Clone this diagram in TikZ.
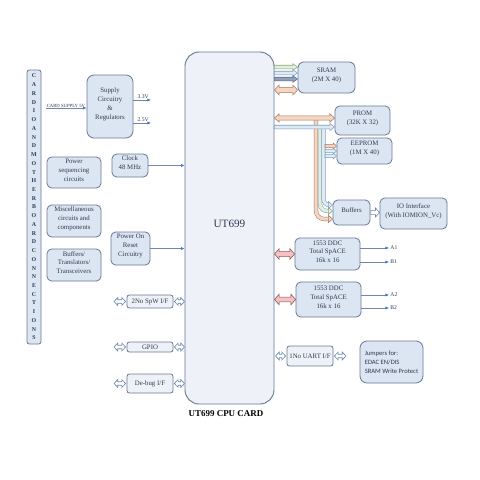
\documentclass[tikz,border=0pt]{standalone}
\usepackage{fontspec}
\setmainfont{Liberation Serif}
\newfontfamily\jfont{Carlito}
\usetikzlibrary{calc,fit,arrows.meta}
\definecolor{bxfill}{HTML}{DCE6F2}
\definecolor{bxlight}{HTML}{EEF2F8}
\definecolor{bxline}{HTML}{6B7A96}
\definecolor{txt}{HTML}{2F3A52}
\definecolor{peachF}{HTML}{F8D5BF}
\definecolor{peachL}{HTML}{9C7B6A}
\definecolor{lblueF}{HTML}{DDEBF7}
\definecolor{lblueL}{HTML}{7F9DB9}
\definecolor{greenF}{HTML}{E2EFDA}
\definecolor{greenL}{HTML}{8FA486}
\definecolor{dblueF}{HTML}{8EA0BC}
\definecolor{dblueL}{HTML}{5F6F8A}
\definecolor{pinkF}{HTML}{F4C2C2}
\definecolor{pinkL}{HTML}{8C5555}
\definecolor{hollowL}{HTML}{6C86AE}
\definecolor{thinL}{HTML}{6E86B0}
\definecolor{tipC}{HTML}{4472C4}
\newcommand\sarr[6]{%
 \filldraw[#1] let \p1=#2, \p2=#3, \n1={(\x2>\x1)*2-1} in
 (\x1,{\y1+#4}) -- ({\x2-(\n1)*#6},{\y1+#4}) -- ({\x2-(\n1)*#6},{\y1+#5}) -- (\x2,\y1)
 -- ({\x2-(\n1)*#6},{\y1-#5}) -- ({\x2-(\n1)*#6},{\y1-#4}) -- (\x1,{\y1-#4}) -- cycle;}
\newcommand\darr[6]{%
 \filldraw[#1] let \p1=#2, \p2=#3, \n1={(\x2>\x1)*2-1} in
 (\x1,\y1) -- ({\x1+(\n1)*#6},{\y1+#5}) -- ({\x1+(\n1)*#6},{\y1+#4}) -- ({\x2-(\n1)*#6},{\y1+#4})
 -- ({\x2-(\n1)*#6},{\y1+#5}) -- (\x2,\y1) -- ({\x2-(\n1)*#6},{\y1-#5}) -- ({\x2-(\n1)*#6},{\y1-#4})
 -- ({\x1+(\n1)*#6},{\y1-#4}) -- ({\x1+(\n1)*#6},{\y1-#5}) -- cycle;}
\newcommand\harr[4]{%
 \filldraw[#1] let \p1=#2 in (\x1,\y1) -- ({\x1-#4},{\y1+#3}) -- ({\x1-#4},{\y1-#3}) -- cycle;}
\begin{document}
\begin{tikzpicture}[x=0.85pt,y=-0.85pt,
 box/.style={draw=bxline, fill=bxfill, line width=0.7pt, rounded corners=4pt, inner sep=0pt,
   font=\fontsize{5.8}{7.6}\selectfont, text=txt, align=center},
 lbox/.style={box, fill=bxlight},
 tarr/.style={draw=thinL, line width=0.5pt, -{Latex[length=3pt,width=2.6pt,color=tipC]}},
 lbl/.style={font=\fontsize{4.8}{6}\selectfont, text=txt, inner sep=1pt},
 peach/.style={fill=peachF, draw=peachL, line width=0.45pt},
 lblue/.style={fill=lblueF, draw=lblueL, line width=0.45pt},
 green/.style={fill=greenF, draw=greenL, line width=0.45pt},
 dblue/.style={fill=dblueF, draw=dblueL, line width=0.45pt},
 pink/.style={fill=pinkF, draw=pinkL, line width=0.5pt},
 hollow/.style={fill=white, draw=hollowL, line width=0.5pt},
 bus/.style 2 args={draw=#2, double=#1, double distance=2.6pt, line width=0.45pt}]
\useasboundingbox (0,0) rectangle (480,480);
\fill[white] (0,0) rectangle (480,480);

% left connector column
\node[box, rounded corners=2pt, fit={(27,70) (41,344)}] (conn) {};
\node[text=txt, font=\bfseries\fontsize{5}{7.42}\selectfont, align=center, inner sep=0pt] (connlbl) at (conn.center)
 {C\\A\\R\\D\\I\\O\\A\\N\\D\\M\\O\\T\\H\\E\\R\\B\\O\\A\\R\\D\\C\\O\\N\\N\\E\\C\\T\\I\\O\\N\\S};

% main CPU box
\node[lbox, rounded corners=12pt, line width=0.8pt, font=\fontsize{9.5}{11}\selectfont, fit={(185,52) (274,404)}] (ut) {UT699};
\node[font=\bfseries\fontsize{7.6}{9}\selectfont, text=black, inner sep=0pt] (title) at (226,414) {UT699 CPU CARD};

% left side boxes
\node[box, rounded corners=6pt, fit={(87,75) (133,138)}] (supply) {Supply\\Circuitry\\\&\\Regulators};
\node[box, fit={(47,157) (101,188)}] (pseq) {Power\\sequencing\\circuits};
\node[box, fit={(112,154) (148,177)}] (clock) {Clock\\48 MHz};
\node[box, fit={(47,205) (101,237)}] (misc) {Miscellaneous\\circuits and\\components};
\node[box, fit={(47,249) (101,281)}] (buff3) {Buffers/\\Translators/\\Transceivers};
\node[box, fit={(111,232) (150,265)}] (por) {Power On\\Reset\\Circuitry};
\node[lbox, rounded corners=2pt, fit={(127,295) (173,308)}] (spw) {};
\node[lbox, rounded corners=2pt, fit={(127,342) (173,352)}] (gpio) {};
\node[lbox, rounded corners=2pt, fit={(127,374) (173,393)}] (debug) {};
\node[box, draw=none, fill=none] (spwlbl) at (spw.center) {2No SpW I/F};
\node[box, draw=none, fill=none] (gpiolbl) at (gpio.center) {GPIO};
\node[box, draw=none, fill=none] (debuglbl) at (debug.center) {De-bug I/F};

% right side boxes
\node[box, rounded corners=5pt, fit={(298,62) (355,93)}] (sram) {SRAM\\(2M X 40)};
\node[box, fit={(335,106) (390,135)}] (prom) {PROM\\(32K X 32)};
\node[box, fit={(337,138) (392,164)}] (eeprom) {EEPROM\\(1M X 40)};
\node[box, fit={(333,200) (370,225)}] (buffers) {Buffers};
\node[box, fit={(380,198) (447,229)}] (io) {IO Interface\\(With IOMION\_Vc)};
\node[box, fit={(295,238) (360,270)}] (ddc1) {1553 DDC\\Total SpACE\\16k x 16};
\node[box, fit={(296,282) (361,317)}] (ddc2) {1553 DDC\\Total SpACE\\16k x 16};
\node[lbox, rounded corners=2pt, fit={(287,346) (333,366)}] (uart) {};
\node[box, draw=none, fill=none] (uartlbl) at (uart.center) {1No UART I/F};
\node[box, rounded corners=6pt, fit={(360,341) (423,383)}] (jump) {};
\node[font=\jfont\fontsize{5.6}{7.8}\selectfont, align=left, text=txt, inner sep=0pt] (jumplbl) at (jump.center) {Jumpers for:\\EDAC EN/DIS\\SRAM Write Protect};

% thin connectors
\coordinate (cs) at (46,108);
\draw[tarr] (cs) -- (supply.west |- cs);
\node[lbl, font=\fontsize{4}{5}\selectfont, anchor=south west, inner sep=0.5pt] (cslbl) at (cs) {CARD SUPPLY 5V};
\coordinate (v33) at (151,100);
\coordinate (v25) at (151,123);
\draw[tarr] (supply.east |- v33) -- (v33) node[lbl, pos=0.55, above] {3.3V};
\draw[tarr] (supply.east |- v25) -- (v25) node[lbl, pos=0.55, above] {2.5V};
\draw[tarr] (clock.east) -- (ut.west |- clock.east);
\draw[tarr] (por.east) -- (ut.west |- por.east);
\coordinate (a1) at (389,248);
\coordinate (b1) at (389,262);
\coordinate (a2) at (389,295);
\coordinate (b2) at (389,308);
\draw[tarr] (ddc1.east |- a1) -- (a1) node[lbl, right] {A1};
\draw[tarr] (ddc1.east |- b1) -- (b1) node[lbl, right] {B1};
\draw[tarr] (ddc2.east |- a2) -- (a2) node[lbl, right] {A2};
\draw[tarr] (ddc2.east |- b2) -- (b2) node[lbl, right] {B2};

% hollow double arrows for interfaces
\coordinate (spwL) at (114,301.5);
\coordinate (gpioL) at (114,347);
\coordinate (dbgL) at (114,383.5);
\coordinate (uartR) at (346,356);
\darr{hollow}{(spwL)}{($(spw.west)+(-1,0)$)}{1.5pt}{3.4pt}{3.2pt}
\darr{hollow}{($(spw.east)+(1,0)$)}{(ut.west |- spw.east)}{1.5pt}{3.4pt}{3.2pt}
\darr{hollow}{(gpioL)}{($(gpio.west)+(-1,0)$)}{1.5pt}{3.4pt}{3.2pt}
\darr{hollow}{($(gpio.east)+(1,0)$)}{(ut.west |- gpio.east)}{1.5pt}{3.4pt}{3.2pt}
\darr{hollow}{(dbgL)}{($(debug.west)+(-1,0)$)}{1.5pt}{3.4pt}{3.2pt}
\darr{hollow}{($(debug.east)+(1,0)$)}{(ut.west |- debug.east)}{1.5pt}{3.4pt}{3.2pt}
\darr{hollow}{($(ut.east |- uart.west)+(1,0)$)}{($(uart.west)+(-1,0)$)}{1.5pt}{3.4pt}{3.2pt}
\darr{hollow}{($(uart.east)+(1,0)$)}{(uartR)}{1.5pt}{3.4pt}{3.2pt}
\sarr{hollow}{($(buffers.east)+(0.5,0)$)}{(io.west)}{1.8pt}{3.8pt}{3.5pt}

% SRAM bus
\sarr{green}{(ut.east |- 0,67)}{(sram.west |- 0,67)}{1.5pt}{2.8pt}{4pt}
\sarr{lblue}{(ut.east |- 0,73)}{(sram.west |- 0,73)}{1.5pt}{2.8pt}{4pt}
\sarr{dblue}{(ut.east |- 0,79)}{(sram.west |- 0,79)}{1.5pt}{2.8pt}{4pt}
\darr{peach}{(ut.east |- 0,90)}{(sram.west |- 0,90)}{2.2pt}{4.2pt}{4pt}

% PROM / EEPROM / Buffers bus
\draw[bus={peachF}{peachL}, rounded corners=7pt] (316,118) |- (330,219);
\draw[bus={greenF}{lblueL}, rounded corners=6pt] (320,127) |- (330,211);
\draw[bus={lblueF}{lblueL}, rounded corners=5pt] (323.5,127) |- (330,205);
\harr{peach}{(buffers.west |- 0,219)}{3pt}{3.6pt}
\harr{green}{(buffers.west |- 0,211)}{3pt}{3.6pt}
\harr{lblue}{(buffers.west |- 0,205)}{3pt}{3.6pt}
\darr{peach}{(ut.east |- 0,118)}{(prom.west |- 0,118)}{1.8pt}{3.6pt}{4pt}
\sarr{lblue}{(ut.east |- 0,127)}{(prom.west |- 0,127)}{1.5pt}{3pt}{4pt}
\sarr{peach}{(325,146)}{(eeprom.west |- 0,146)}{1.3pt}{2.6pt}{3pt}
\sarr{lblue}{(325,151)}{(eeprom.west |- 0,151)}{1.3pt}{2.6pt}{3pt}
\sarr{lblue}{(325,156)}{(eeprom.west |- 0,156)}{1.3pt}{2.6pt}{3pt}

% 1553 links
\darr{pink}{(ut.east |- ddc1.west)}{(ddc1.west)}{2pt}{4.5pt}{4pt}
\darr{pink}{(ut.east |- ddc2.west)}{(ddc2.west)}{2pt}{4.5pt}{4pt}
\end{tikzpicture}
\end{document}
